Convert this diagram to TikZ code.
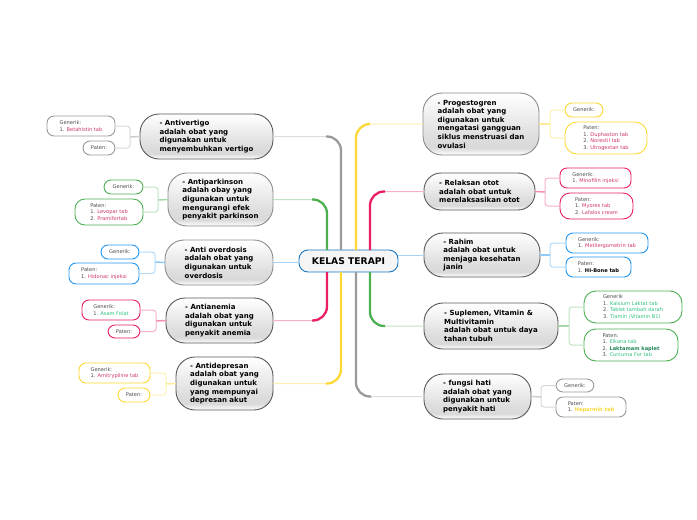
\documentclass[tikz,border=0pt]{standalone}
\usepackage{fontspec}
\setmainfont{DejaVu Sans}
\definecolor{tgray}{HTML}{9A9A9A}
\definecolor{tgreen}{HTML}{4CAF50}
\definecolor{tpink}{HTML}{E91E63}
\definecolor{tblue}{HTML}{2196F3}
\definecolor{tyellow}{HTML}{FDD835}
\definecolor{druggreen}{HTML}{2EC27E}
\newcommand{\drug}[1]{\textcolor{tpink!75!gray}{#1}}
\newcommand{\vit}[1]{\textcolor{druggreen}{#1}}
\pgfdeclareverticalshading{mainshade}{100bp}{color(0bp)=(white); color(25bp)=(white); color(31bp)=(black!15); color(40bp)=(black!13); color(75bp)=(white); color(100bp)=(white)}
\tikzset{
  x=1pt,y=-1pt,
  mainbox/.style={draw=black!65,line width=0.9pt,rectangle,rounded corners=19pt,align=left,inner sep=0pt,outer sep=0pt,
    shading=mainshade,font=\fontsize{7}{8.6}\selectfont\bfseries,text=black},
  subbox/.style={line width=0.9pt,rectangle,fill=white,rounded corners=7pt,align=left,inner sep=0pt,outer sep=0pt,
    font=\fontsize{5.1}{6.5}\selectfont,text=black!70},
  outerstrong/.style={line width=2.3pt,rounded corners=14pt,shorten >=53pt},
  innerstrong/.style={line width=2.3pt,rounded corners=14pt,shorten >=39pt},
  faint/.style={line width=1pt,rounded corners=14pt},
  stem/.style={line width=1.5pt},
  fork/.style={line width=1pt,rounded corners=3pt},
}
\begin{document}
\begin{tikzpicture}
  \useasboundingbox (0,0) rectangle (697,520);
  \node (center) at (348.5,261)[draw=tblue!80!black,line width=0.9pt,fill=black!4,rectangle,rounded corners=9pt,inner sep=0pt,outer sep=0pt,minimum width=99pt,minimum height=22pt,font=\fontsize{9.2}{10}\selectfont\bfseries]{KELAS TERAPI};
  % left side
  \node (vertigo) at (206.5,136.5)[mainbox,minimum width=133pt,minimum height=45pt]{- Antivertigo\\adalah obat yang\\digunakan untuk\\menyembuhkan vertigo};
  \node (parkinson) at (220.5,199.5)[mainbox,draw=black!45,minimum width=105pt,minimum height=53pt]{- Antiparkinson\\adalah obay yang\\digunakan untuk\\mengurangi efek\\penyakit parkinson};
  \node (overdosis) at (219,262.5)[mainbox,draw=black!45,minimum width=108pt,minimum height=45pt]{- Anti overdosis\\adalah obat yang\\digunakan untuk\\overdosis};
  \node (anemia) at (219.5,320.5)[mainbox,minimum width=107pt,minimum height=45pt]{- Antianemia\\adalah obat yang\\digunakan untuk\\penyakit anemia};
  \node (depresan) at (224.5,383.5)[mainbox,minimum width=97pt,minimum height=53pt]{- Antidepresan\\adalah obat yang\\digunakan untuk\\yang mempunyai\\depresan akut};
  % right side
  \node (progestogren) at (481,124)[mainbox,draw=black!45,minimum width=116pt,minimum height=62pt]{- Progestogren\\adalah obat yang\\digunakan untuk\\mengatasi gangguan\\siklus menstruasi dan\\ovulasi};
  \node (relaksan) at (479.5,191.5)[mainbox,rounded corners=17pt,minimum width=111pt,minimum height=37pt]{- Relaksan otot\\adalah obat untuk\\merelaksasikan otot};
  \node (rahim) at (482,255)[mainbox,minimum width=116pt,minimum height=44pt]{- Rahim\\adalah obat untuk\\menjaga kesehatan\\janin};
  \node (suplemen) at (491,326)[mainbox,minimum width=134pt,minimum height=46pt]{- Suplemen, Vitamin \&\\Multivitamin\\adalah obat untuk daya\\tahan tubuh};
  \node (hati) at (477.5,396.5)[mainbox,minimum width=107pt,minimum height=45pt]{- fungsi hati\\adalah obat yang\\digunakan untuk\\penyakit hati};
  % left leaves
  \node (vertigogen) at (81,126)[subbox,draw=tgray,minimum width=68pt,minimum height=20pt]{Generik:\\1. \drug{Betahistin tab}};
  \node (vertigopat) at (99,148)[subbox,draw=tgray,minimum width=32pt,minimum height=14pt]{Paten:};
  \node (parkinsongen) at (123.5,187)[subbox,draw=tgreen,minimum width=39pt,minimum height=14pt]{Generik:};
  \node (parkinsonpat) at (109,212)[subbox,draw=tgreen,rounded corners=10pt,minimum width=68pt,minimum height=26pt]{Paten:\\1. \drug{Levopar tab}\\2. \drug{Pramifortab}};
  \node (overdosisgen) at (120,252)[subbox,draw=tblue,minimum width=38pt,minimum height=14pt]{Generik:};
  \node (overdosispat) at (104,273.5)[subbox,draw=tblue,minimum width=70pt,minimum height=21pt]{Paten:\\1. \drug{Hidonac injeksi}};
  \node (anemiagen) at (111,310)[subbox,draw=tpink,minimum width=58pt,minimum height=20pt]{Generik:\\1. \vit{Asam Folat}};
  \node (anemiapat) at (124,331.5)[subbox,draw=tpink,minimum width=32pt,minimum height=13pt]{Paten:};
  \node (depresangen) at (114.5,373)[subbox,draw=tyellow,minimum width=71pt,minimum height=20pt]{Generik:\\1. \drug{Amitrypiline tab}};
  \node (depresanpat) at (134,395)[subbox,draw=tyellow,minimum width=32pt,minimum height=14pt]{Paten:};
  % right leaves
  \node (progestogrengen) at (584,110)[subbox,draw=tyellow,minimum width=38pt,minimum height=14pt]{Generik:};
  \node (progestogrenpat) at (606,138)[subbox,draw=tyellow,rounded corners=12pt,minimum width=82pt,minimum height=32pt]{Paten:\\1. \drug{Duphaston tab}\\2. \drug{Norestil tab}\\3. \drug{Utrogestan tab}};
  \node (relaksangen) at (595.5,178)[subbox,draw=tpink,minimum width=71pt,minimum height=20pt]{Generik:\\1. \drug{Minofilin injeksi}};
  \node (relaksanpat) at (596.5,206)[subbox,draw=tpink,rounded corners=10pt,minimum width=73pt,minimum height=26pt]{Paten:\\1. \drug{Myores tab}\\2. \drug{Lafalos cream}};
  \node (rahimgen) at (607,243)[subbox,draw=tblue,minimum width=82pt,minimum height=20pt]{Generik:\\1. \drug{Metilergometrin tab}};
  \node (rahimpat) at (598.5,267)[subbox,draw=tblue,minimum width=65pt,minimum height=20pt]{Paten:\\1. \textcolor{black}{\bfseries HI-Bone tab}};
  \node (suplemengen) at (633,307)[subbox,draw=tgreen,rounded corners=12pt,minimum width=98pt,minimum height=32pt]{Generik\\1. \vit{Kalsium Laktat tab}\\2. \vit{Tablet tambah darah}\\3. \vit{Tiamin (Vitamin B1)}};
  \node (suplemenpat) at (631,345)[subbox,draw=tgreen,rounded corners=12pt,minimum width=94pt,minimum height=32pt]{Paten:\\1. \vit{Elkana tab}\\2. \textcolor{druggreen!70!black}{\bfseries Laktamam kaplet}\\3. \vit{Curcuma For tab}};
  \node (hatigen) at (575,385.5)[subbox,draw=tgray,minimum width=38pt,minimum height=13pt]{Generik:};
  \node (hatipat) at (591,407)[subbox,draw=tgray,minimum width=70pt,minimum height=20pt]{Paten:\\1. \textcolor{tyellow}{\bfseries Heparmin tab}};
  % trunks from the center
  \coordinate (leftouter) at (341,261);
  \coordinate (leftinner) at (327,261);
  \coordinate (rightouter) at (356,261);
  \coordinate (rightinner) at (370,261);
  \draw [faint,tgray!35] (center.north -| leftouter) |- (vertigo.east);
  \draw [outerstrong,tgray] (center.north -| leftouter) |- (vertigo.east);
  \draw [faint,tgreen!35] (center.north -| leftinner) |- (parkinson.east);
  \draw [innerstrong,tgreen] (center.north -| leftinner) |- (parkinson.east);
  \draw [faint,tblue!40] (center.west |- overdosis.east) -- (overdosis.east);
  \draw [faint,tpink!35] (center.south -| leftinner) |- (anemia.east);
  \draw [innerstrong,tpink] (center.south -| leftinner) |- (anemia.east);
  \draw [faint,tyellow!40] (center.south -| leftouter) |- (depresan.east);
  \draw [outerstrong,tyellow] (center.south -| leftouter) |- (depresan.east);
  \draw [faint,tyellow!40] (center.north -| rightouter) |- (progestogren.west);
  \draw [outerstrong,tyellow] (center.north -| rightouter) |- (progestogren.west);
  \draw [faint,tpink!35] (center.north -| rightinner) |- (relaksan.west);
  \draw [innerstrong,tpink] (center.north -| rightinner) |- (relaksan.west);
  \draw [faint,tblue!40] (center.east |- rahim.west) -- (rahim.west);
  \draw [faint,tgreen!35] (center.south -| rightinner) |- (suplemen.west);
  \draw [innerstrong,tgreen] (center.south -| rightinner) |- (suplemen.west);
  \draw [faint,tgray!35] (center.south -| rightouter) |- (hati.west);
  \draw [outerstrong,tgray] (center.south -| rightouter) |- (hati.west);
  % forks to the leaves
  \coordinate (vertigofork) at (130,137);
  \coordinate (parkinsonfork) at (158,200);
  \coordinate (overdosisfork) at (155,262);
  \coordinate (anemiafork) at (156,321);
  \coordinate (depresanfork) at (166,384);
  \coordinate (progestogrenfork) at (550,124);
  \coordinate (relaksanfork) at (545,192);
  \coordinate (rahimfork) at (550,255);
  \coordinate (suplemenfork) at (569,326);
  \coordinate (hatifork) at (541,397);
  \draw [stem,tgray!50] (vertigo.west) -- (vertigofork);
  \draw [fork,tgray!40] (vertigogen.east) -| (vertigofork) |- (vertigopat.east);
  \draw [stem,tgreen!50] (parkinson.west) -- (parkinsonfork);
  \draw [fork,tgreen!35] (parkinsongen.east) -| (parkinsonfork) |- (parkinsonpat.east);
  \draw [stem,tblue!50] (overdosis.west) -- (overdosisfork);
  \draw [fork,tblue!35] (overdosisgen.east) -| (overdosisfork) |- (overdosispat.east);
  \draw [stem,tpink!50] (anemia.west) -- (anemiafork);
  \draw [fork,tpink!35] (anemiagen.east) -| (anemiafork) |- (anemiapat.east);
  \draw [stem,tyellow!50] (depresan.west) -- (depresanfork);
  \draw [fork,tyellow!40] (depresangen.east) -| (depresanfork) |- (depresanpat.east);
  \draw [stem,tyellow!50] (progestogren.east) -- (progestogrenfork);
  \draw [fork,tyellow!40] (progestogrengen.west) -| (progestogrenfork) |- (progestogrenpat.west);
  \draw [stem,tpink!50] (relaksan.east) -- (relaksanfork);
  \draw [fork,tpink!35] (relaksangen.west) -| (relaksanfork) |- (relaksanpat.west);
  \draw [stem,tblue!50] (rahim.east) -- (rahimfork);
  \draw [fork,tblue!35] (rahimgen.west) -| (rahimfork) |- (rahimpat.west);
  \draw [stem,tgreen!50] (suplemen.east) -- (suplemenfork);
  \draw [fork,tgreen!35] (suplemengen.west) -| (suplemenfork) |- (suplemenpat.west);
  \draw [stem,tgray!50] (hati.east) -- (hatifork);
  \draw [fork,tgray!40] (hatigen.west) -| (hatifork) |- (hatipat.west);
\end{tikzpicture}
\end{document}
